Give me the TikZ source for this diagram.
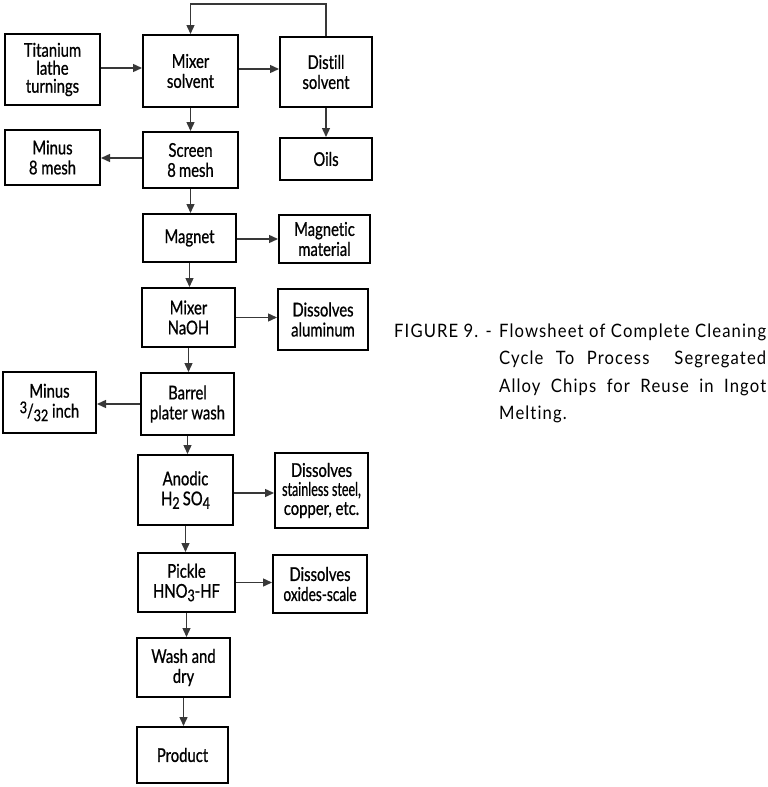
\documentclass[tikz,border=0pt]{standalone}
\usepackage{fontspec}
\usetikzlibrary{arrows.meta}
\newfontfamily\boxfont[FakeStretch=0.78,FakeBold=0.8,Ligatures={NoCommon,NoRare}]{Lato}
\newfontfamily\capfont[FakeStretch=0.9,LetterSpace=6,Ligatures={NoCommon,NoRare}]{Lato}
\newcommand{\lowr}[1]{\raisebox{-3.5pt}{\fontsize{16}{16}\selectfont #1}}
\newcommand{\highr}[1]{\raisebox{4.5pt}{\fontsize{16}{16}\selectfont #1}}
\tikzset{
  box/.style={draw=black, line width=2pt, inner sep=0pt, align=center,
    font=\boxfont\fontsize{19}{20}\selectfont},
  arr/.style={draw=black!78, line width=1.4pt, -{Triangle[length=9pt,width=8pt]}},
  capstyle/.style={anchor=base west, inner sep=0pt, font=\capfont\fontsize{18.5}{28}\selectfont}
}
\begin{document}
\begin{tikzpicture}[x=1pt,y=-1pt]
\useasboundingbox (0,0) rectangle (768,787);
% boxes
\node[box, minimum width=95pt, minimum height=71pt, font=\boxfont\fontsize{19}{18}\selectfont] (tit) at (52.5,69.5) {Titanium\\lathe\\turnings};
\node[box, minimum width=95pt, minimum height=72pt] (mixa) at (190.5,71) {Mixer\\solvent};
\node[box, minimum width=92pt, minimum height=70pt] (dist) at (326,72) {Distill\\solvent};
\node[box, minimum width=95pt, minimum height=55pt] (mineight) at (52.5,157.5) {Minus\\8 mesh};
\node[box, minimum width=95pt, minimum height=56pt] (scr) at (190.5,160) {Screen\\8\,mesh};
\node[box, minimum width=92pt, minimum height=42pt] (oils) at (326,159) {Oils};
\node[box, minimum width=93pt, minimum height=48pt] (mag) at (189.5,238) {Magnet};
\node[box, minimum width=91pt, minimum height=48pt] (magm) at (324.5,239) {Magnetic\\material};
\node[box, minimum width=93pt, minimum height=59pt] (naoh) at (188.5,317.5) {Mixer\\NaOH};
\node[box, minimum width=90pt, minimum height=61pt] (alum) at (323,319.5) {Dissolves\\aluminum};
\node[box, minimum width=93pt, minimum height=61pt] (minfrac) at (49.5,402.5) {Minus\\\highr{3}/\lowr{32} inch};
\node[box, minimum width=93pt, minimum height=62pt] (barrel) at (187.5,404) {Barrel\\plater wash};
\node[box, minimum width=95pt, minimum height=70pt] (anodic) at (185.5,490) {Anodic\\H\lowr{2}\,SO\lowr{4}};
\node[box, minimum width=93pt, minimum height=75pt, font=\boxfont\fontsize{19}{19}\selectfont] (stain) at (321.5,490.5) {Dissolves\\{\addfontfeature{FakeStretch=0.66}stainless steel,}\\copper, etc.};
\node[box, minimum width=97pt, minimum height=59pt] (pickle) at (186.5,582.5) {Pickle\\HNO\lowr{3}-HF};
\node[box, minimum width=94pt, minimum height=58pt] (oxides) at (320,584) {Dissolves\\{\addfontfeature{FakeStretch=0.72}oxides-scale}};
\node[box, minimum width=93pt, minimum height=59pt] (wash) at (183.5,667.5) {Wash and\\dry};
\node[box, minimum width=91pt, minimum height=56pt] (prod) at (182.5,755) {Product};
% recycle loop
\coordinate (loop) at (260,4);
\draw[arr] (dist.north) |- (loop) -| (mixa.north);
% horizontal connectors
\draw[arr] ([yshift=1.5pt]tit.east) -- ([yshift=1.5pt]tit.east -| mixa.west);
\draw[arr] ([yshift=2pt]mixa.east) -- ([yshift=2pt]mixa.east -| dist.west);
\draw[arr] ([yshift=2pt]scr.west) -- ([yshift=2pt]scr.west -| mineight.east);
\draw[arr] ([yshift=-1pt]mag.east) -- ([yshift=-1pt]mag.east -| magm.west);
\draw[arr] (naoh.east) -- (naoh.east -| alum.west);
\draw[arr] (barrel.west) -- (barrel.west -| minfrac.east);
\draw[arr] ([yshift=-3pt]anodic.east) -- ([yshift=-3pt]anodic.east -| stain.west);
\draw[arr] (pickle.east) -- (pickle.east -| oxides.west);
% vertical connectors
\draw[arr] (mixa.south) -- (mixa.south |- scr.north);
\draw[arr] (dist.south) -- (dist.south |- oils.north);
\draw[arr] (scr.south) -- (scr.south |- mag.north);
\draw[arr] (mag.south) -- (mag.south |- naoh.north);
\draw[arr] (naoh.south) -- (naoh.south |- barrel.north);
\draw[arr] (barrel.south) -- (barrel.south |- anodic.north);
\draw[arr] (anodic.south) -- (anodic.south |- pickle.north);
\draw[arr] (pickle.south) -- (pickle.south |- wash.north);
\draw[arr] (wash.south) -- (wash.south |- prod.north);
% caption
\node[capstyle] (figlab) at (394,337) {FIGURE 9. -};
\node[capstyle] (captxt) at (499,337)
  {\vtop{\baselineskip=27.5pt
   \hbox{\makebox[267pt][s]{Flowsheet of Complete Cleaning}}
   \hbox{\makebox[267pt][s]{Cycle To Process\ \ Segregated}}
   \hbox{\makebox[267pt][s]{Alloy Chips for Reuse in Ingot}}
   \hbox{Melting.}}};
\end{tikzpicture}
\end{document}
